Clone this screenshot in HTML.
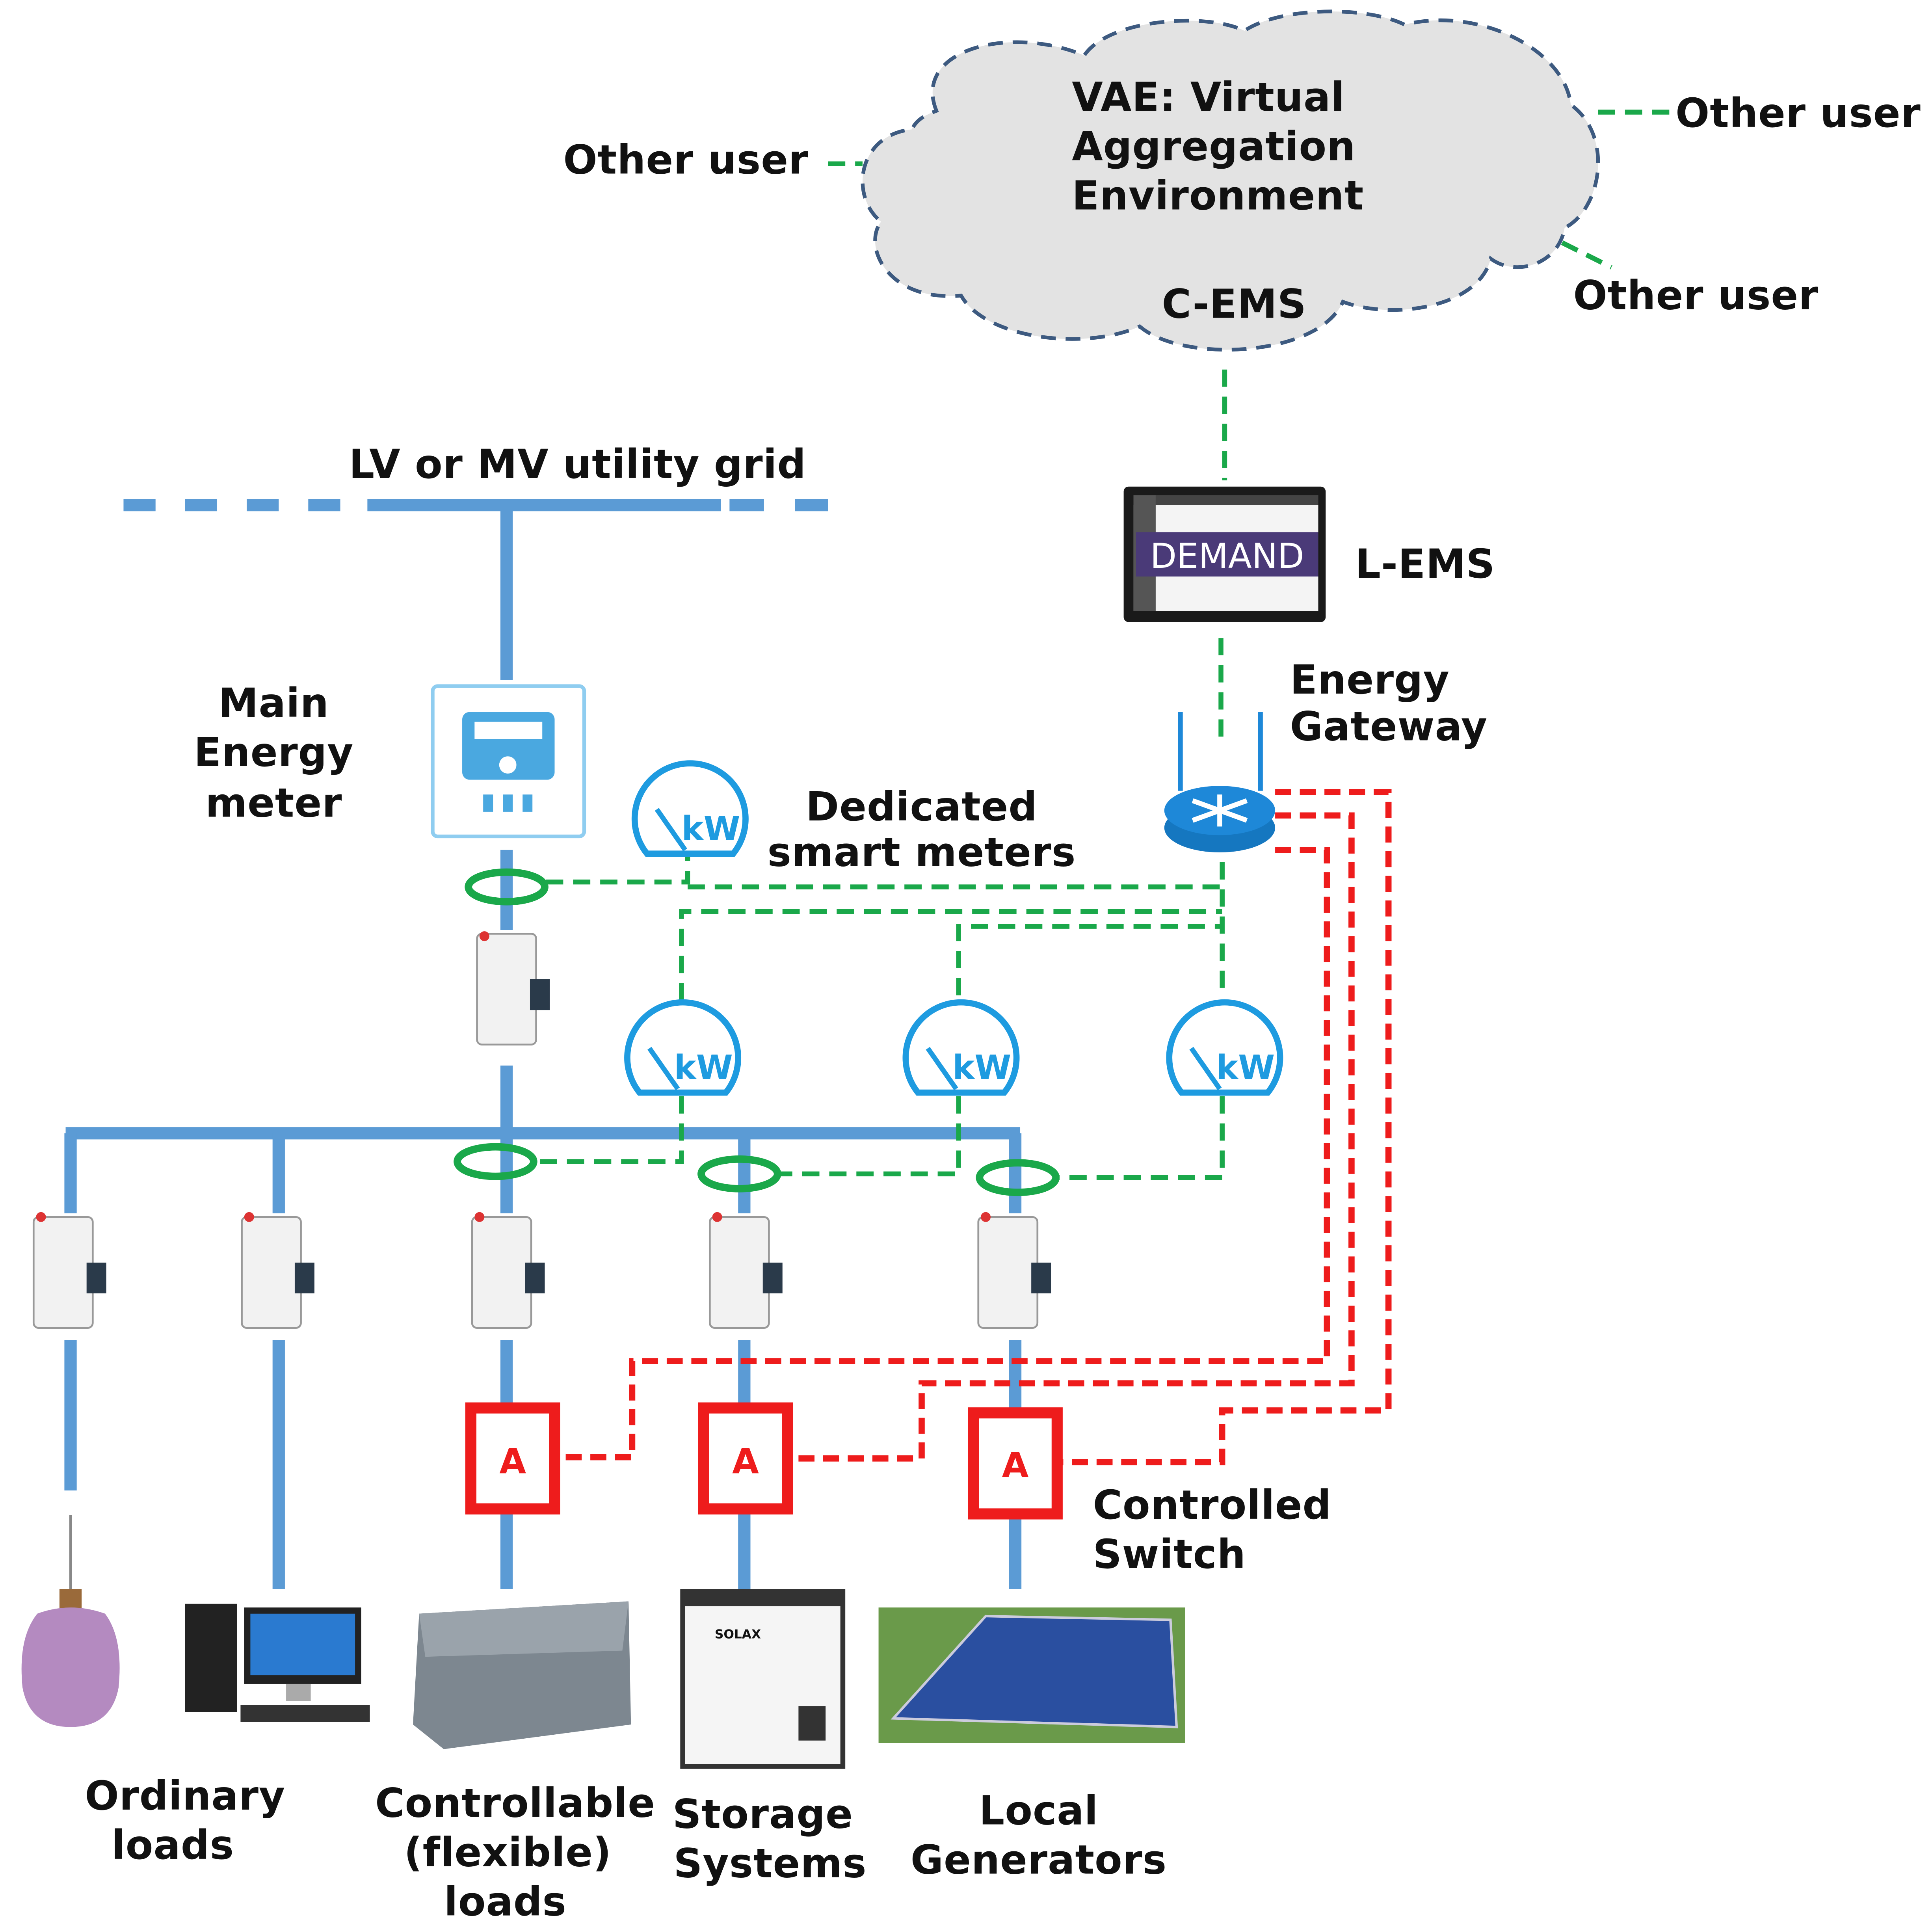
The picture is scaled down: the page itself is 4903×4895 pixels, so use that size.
<!DOCTYPE html>
<html><head><meta charset="utf-8"><style>
html,body{margin:0;padding:0;background:#fff;}
svg{display:block;}
text{font-family:"DejaVu Sans","Liberation Sans",sans-serif;font-weight:bold;fill:#111;}
.t{font-size:32.5px;letter-spacing:0.3px;}
</style></head><body>
<svg width="4903" height="4895" viewBox="0 0 1568 1566" xmlns="http://www.w3.org/2000/svg">
<g fill="#e3e3e3" stroke="#3d5a80" stroke-width="3" stroke-dasharray="12,8">
<path d="M760,90 C740,40 820,20 880,45 C900,15 980,10 1010,25 C1040,5 1110,5 1140,20 C1200,5 1270,40 1275,85 C1310,110 1300,170 1270,185 C1265,215 1230,225 1210,210 C1200,250 1130,260 1090,245 C1070,290 960,295 925,265 C880,285 800,275 780,240 C720,245 700,200 715,180 C690,160 695,110 740,105 C745,95 755,92 760,90 Z"/>
</g>
<text class="t" x="870" y="90">VAE: Virtual</text>
<text class="t" x="870" y="130">Aggregation</text>
<text class="t" x="870" y="170">Environment</text>
<text class="t" x="943" y="258">C-EMS</text>
<g stroke="#1aa84a" stroke-width="4" stroke-dasharray="14,8" fill="none">
<line x1="672" y1="133" x2="700" y2="133"/>
<line x1="1297" y1="91" x2="1355" y2="91"/>
<line x1="1268" y1="197" x2="1308" y2="217"/>
<line x1="994" y1="300" x2="994" y2="390"/>
<line x1="991" y1="518" x2="991" y2="605"/>
</g>
<text class="t" x="457" y="141">Other user</text>
<text class="t" x="1360" y="103">Other user</text>
<text class="t" x="1277" y="251">Other user</text>
<rect x="912" y="395" width="164" height="110" rx="4" fill="#1a1a1a"/>
<rect x="920" y="402" width="150" height="94" fill="#f4f4f4"/>
<rect x="920" y="402" width="150" height="8" fill="#444"/>
<rect x="920" y="402" width="18" height="94" fill="#555"/>
<rect x="922" y="432" width="148" height="36" fill="#4a3a78"/>
<text x="996" y="461" font-size="28" text-anchor="middle" style="fill:#fff;font-weight:normal">DEMAND</text>
<text class="t" x="1100" y="469">L-EMS</text>
<text class="t" x="1047" y="563">Energy</text>
<text class="t" x="1047" y="601">Gateway</text>
<line x1="958" y1="578" x2="958" y2="642" stroke="#1e88d8" stroke-width="4"/>
<line x1="1023" y1="578" x2="1023" y2="642" stroke="#1e88d8" stroke-width="4"/>
<ellipse cx="990" cy="672" rx="45" ry="20" fill="#1577c0"/>
<ellipse cx="990" cy="658" rx="45" ry="20" fill="#1e88d8"/>
<path d="M968,650 L1012,666 M968,666 L1012,650 M990,645 L990,671" stroke="#fff" stroke-width="4"/>
<text class="t" x="283" y="388">LV or MV utility grid</text>
<g stroke="#5b9bd5" stroke-width="10" fill="none">
<line x1="100" y1="410" x2="290" y2="410" stroke-dasharray="26,24"/>
<line x1="298" y1="410" x2="585" y2="410"/>
<line x1="592" y1="410" x2="672" y2="410" stroke-dasharray="28,25"/>
<line x1="411" y1="410" x2="411" y2="552"/>
<line x1="411" y1="690" x2="411" y2="755"/>
<line x1="411" y1="865" x2="411" y2="922"/>
<line x1="53" y1="920" x2="828" y2="920"/>
<line x1="57" y1="920" x2="57" y2="985"/>
<line x1="226" y1="920" x2="226" y2="985"/>
<line x1="411" y1="920" x2="411" y2="985"/>
<line x1="604" y1="920" x2="604" y2="985"/>
<line x1="824" y1="920" x2="824" y2="985"/>
<line x1="57" y1="1088" x2="57" y2="1210"/>
<line x1="226" y1="1088" x2="226" y2="1290"/>
<line x1="411" y1="1088" x2="411" y2="1290"/>
<line x1="604" y1="1088" x2="604" y2="1290"/>
<line x1="824" y1="1088" x2="824" y2="1290"/>
</g>
<rect x="351" y="557" width="123" height="122" rx="4" fill="#fff" stroke="#8fcdf0" stroke-width="3"/>
<rect x="375" y="578" width="75" height="55" rx="6" fill="#4aa8e0"/>
<rect x="385" y="586" width="55" height="14" fill="#fff"/>
<circle cx="412" cy="621" r="7" fill="#fff"/>
<rect x="392" y="645" width="8" height="14" fill="#4aa8e0"/><rect x="408" y="645" width="8" height="14" fill="#4aa8e0"/><rect x="424" y="645" width="8" height="14" fill="#4aa8e0"/>
<text class="t" x="222" y="582" text-anchor="middle">Main</text>
<text class="t" x="222" y="622" text-anchor="middle">Energy</text>
<text class="t" x="222" y="663" text-anchor="middle">meter</text>
<g stroke="#1aa84a" stroke-width="4" stroke-dasharray="14,8" fill="none">
<polyline points="443,716 558,716 558,695"/>
<polyline points="558,720 992,720"/>
<polyline points="553,812 553,740 992,740"/>
<polyline points="778,808 778,752 992,752"/>
<line x1="992" y1="700" x2="992" y2="810"/>
<polyline points="553,890 553,943 435,943"/>
<polyline points="778,890 778,953 632,953"/>
<polyline points="992,890 992,956 858,956"/>
</g>
<g stroke="#1aa84a" stroke-width="6" fill="none">
<ellipse cx="411" cy="720" rx="31" ry="12"/>
<ellipse cx="402" cy="943" rx="31" ry="12"/>
<ellipse cx="600" cy="953" rx="31" ry="12"/>
<ellipse cx="826" cy="956" rx="31" ry="12"/>
</g>
<g fill="#fff" stroke="#1e9be0" stroke-width="5">
<path d="M525,693 A45,45 0 1 1 595,693 Z"/>
<path d="M519,887 A45,45 0 1 1 589,887 Z"/>
<path d="M745,887 A45,45 0 1 1 815,887 Z"/>
<path d="M959,887 A45,45 0 1 1 1029,887 Z"/>
</g>
<g stroke="#1e9be0" stroke-width="4">
<line x1="533" y1="657" x2="556" y2="690"/>
<line x1="527" y1="851" x2="550" y2="884"/>
<line x1="753" y1="851" x2="776" y2="884"/>
<line x1="967" y1="851" x2="990" y2="884"/>
</g>
<g font-size="27" style="font-weight:normal">
<text x="553" y="682" style="fill:#1e9be0">kW</text>
<text x="547" y="876" style="fill:#1e9be0">kW</text>
<text x="773" y="876" style="fill:#1e9be0">kW</text>
<text x="987" y="876" style="fill:#1e9be0">kW</text>
</g>
<text class="t" x="748" y="666" text-anchor="middle">Dedicated</text>
<text class="t" x="748" y="703" text-anchor="middle">smart meters</text>
<g fill="#f2f2f2" stroke="#999" stroke-width="1.5">
<rect x="387" y="758" width="48" height="90" rx="4"/>
<rect x="27" y="988" width="48" height="90" rx="4"/>
<rect x="196" y="988" width="48" height="90" rx="4"/>
<rect x="383" y="988" width="48" height="90" rx="4"/>
<rect x="576" y="988" width="48" height="90" rx="4"/>
<rect x="794" y="988" width="48" height="90" rx="4"/>
</g>
<g fill="#2a3a4a">
<rect x="430" y="795" width="16" height="25"/>
<rect x="70" y="1025" width="16" height="25"/>
<rect x="239" y="1025" width="16" height="25"/>
<rect x="426" y="1025" width="16" height="25"/>
<rect x="619" y="1025" width="16" height="25"/>
<rect x="837" y="1025" width="16" height="25"/>
</g>
<g fill="#d33"><circle cx="393" cy="760" r="4"/><circle cx="33" cy="988" r="4"/><circle cx="202" cy="988" r="4"/><circle cx="389" cy="988" r="4"/><circle cx="582" cy="988" r="4"/><circle cx="800" cy="988" r="4"/></g>
<g stroke="#ee1c1c" stroke-width="5" stroke-dasharray="13,7" fill="none">
<polyline points="1035,643 1127,643 1127,1145 992,1145 992,1187 862,1187"/>
<polyline points="1035,662 1097,662 1097,1123 748,1123 748,1184 645,1184"/>
<polyline points="1035,690 1077,690 1077,1105 513,1105 513,1183 457,1183"/>
</g>
<g fill="#fff" stroke="#ee1c1c" stroke-width="9">
<rect x="382" y="1143" width="68" height="82"/>
<rect x="571" y="1143" width="68" height="82"/>
<rect x="790" y="1147" width="68" height="82"/>
</g>
<g font-size="28" style="font-weight:normal">
<text x="416" y="1196" text-anchor="middle" style="fill:#ee1c1c">A</text>
<text x="605" y="1196" text-anchor="middle" style="fill:#ee1c1c">A</text>
<text x="824" y="1199" text-anchor="middle" style="fill:#ee1c1c">A</text>
</g>
<text class="t" x="887" y="1233">Controlled</text>
<text class="t" x="887" y="1273">Switch</text>
<line x1="57" y1="1230" x2="57" y2="1290" stroke="#888" stroke-width="2"/>
<rect x="48" y="1290" width="18" height="22" fill="#9a6a3a"/>
<path d="M30,1310 Q57,1300 85,1310 Q100,1330 96,1370 Q90,1402 57,1402 Q24,1402 18,1370 Q14,1330 30,1310 Z" fill="#b48ac0"/>
<rect x="150" y="1302" width="42" height="88" fill="#222"/>
<rect x="198" y="1305" width="95" height="62" fill="#222"/>
<rect x="203" y="1310" width="85" height="50" fill="#2a7ad0"/>
<rect x="232" y="1367" width="20" height="14" fill="#aaa"/>
<rect x="195" y="1384" width="105" height="14" fill="#333"/>
<path d="M340,1310 L510,1300 L512,1400 L360,1420 L335,1400 Z" fill="#7d8790"/>
<path d="M340,1310 L510,1300 L505,1340 L345,1345 Z" fill="#9aa3ab"/>
<rect x="554" y="1292" width="130" height="142" fill="#f5f5f5" stroke="#333" stroke-width="4"/>
<rect x="554" y="1292" width="130" height="12" fill="#333"/>
<rect x="648" y="1385" width="22" height="28" fill="#333"/>
<text x="580" y="1330" font-size="10">SOLAX</text>
<rect x="713" y="1305" width="249" height="110" fill="#6a9a4a"/>
<path d="M725,1395 L800,1312 L950,1315 L955,1402 Z" fill="#2a4fa0" stroke="#ccd" stroke-width="2"/>
<text class="t" x="150" y="1469" text-anchor="middle">Ordinary</text>
<text class="t" x="140" y="1509" text-anchor="middle">loads</text>
<text class="t" x="418" y="1475" text-anchor="middle">Controllable</text>
<text class="t" x="412" y="1515" text-anchor="middle">(flexible)</text>
<text class="t" x="410" y="1555" text-anchor="middle">loads</text>
<text class="t" x="619" y="1484" text-anchor="middle">Storage</text>
<text class="t" x="625" y="1524" text-anchor="middle">Systems</text>
<text class="t" x="843" y="1481" text-anchor="middle">Local</text>
<text class="t" x="843" y="1521" text-anchor="middle">Generators</text>
</svg>
</body></html>
